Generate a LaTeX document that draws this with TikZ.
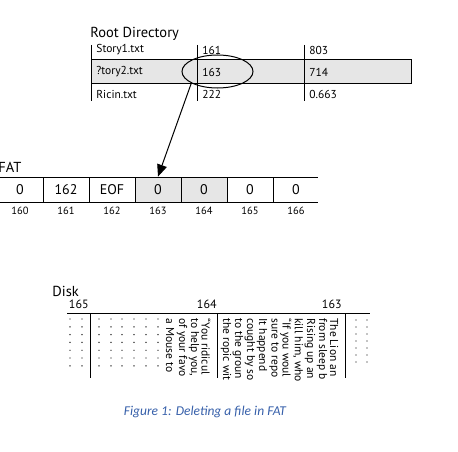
\documentclass[tikz,border=0pt]{standalone}
\usepackage{fontspec}
\setmainfont{PT Sans}
\newfontfamily\capfont{Carlito}
\usetikzlibrary{arrows.meta,shapes.geometric}
\definecolor{cellgray}{RGB}{230,230,230}
\definecolor{capblue}{RGB}{55,96,170}

\begin{document}
\begin{tikzpicture}[x=1pt,y=-1pt,line width=.8pt]
\useasboundingbox (0,0) rectangle (458,452);
% root directory
\node[anchor=base west,inner sep=0,font=\fontsize{14.5}{16}\selectfont] (rdtitle) at (90,38) {Root Directory};
\fill[cellgray] (91,59) rectangle (411,83);
\draw (91,59) -- (411,59) -- (411,83) -- (91,83);
\foreach \x in {91,197,304} \draw (\x,45) -- (\x,101);
\foreach \y/\n/\a/\b [count=\i] in {50/Story1.txt/161/803,72/?tory2.txt/163/714,94/Ricin.txt/222/0.663}{
  \node[anchor=west,inner sep=0,font=\fontsize{11.5}{13}\selectfont] (fname\i) at (96,\y) {\n};
  \node[anchor=west,inner sep=0,font=\fontsize{11.5}{13}\selectfont] (fclus\i) at (202,\y) {\a};
  \node[anchor=west,inner sep=0,font=\fontsize{11.5}{13}\selectfont] (fsize\i) at (309,\y) {\b};
}
\node[draw,ellipse,line width=1pt,minimum width=71pt,minimum height=33pt,inner sep=0] (sel) at (217.5,71.5) {};
% FAT
\node[anchor=base west,inner sep=0,font=\fontsize{14.5}{16}\selectfont] (fattitle) at (-2,172) {FAT};
\fill[cellgray] (135,177) rectangle (227,202);
\draw (-3,177) -- (318,177);
\draw (-3,202) -- (318,202);
\foreach \x in {43,89,135,181,227,273} \draw (\x,177) -- (\x,202);
\foreach \v [count=\i from 0] in {0,162,EOF,0,0,0,0}{
  \pgfmathtruncatemacro\n{160+\i}
  \node[minimum width=46pt,minimum height=25pt,inner sep=0,font=\fontsize{14}{16}\selectfont] (c\n) at ({20+46*\i},189.5) {\v};
  \node[inner sep=0,font=\fontsize{10.5}{12}\selectfont] (idx\n) at ({20+46*\i},211) {\n};
}
\draw[-{Triangle[width=10pt,length=12pt]},line width=1pt] (sel.204) -- (c163.north);
% disk
\node[anchor=base west,inner sep=0,font=\fontsize{14.5}{16}\selectfont] (disktitle) at (52,296) {Disk};
\draw (67,313) -- (370,313);
\foreach \x in {90,217,345} \draw (\x,313) -- (\x,378);
\node[anchor=base east,inner sep=0,font=\fontsize{12}{14}\selectfont] (blk165) at (89,308) {165};
\node[anchor=base east,inner sep=0,font=\fontsize{12}{14}\selectfont] (blk164) at (217,308) {164};
\node[anchor=base east,inner sep=0,font=\fontsize{12}{14}\selectfont] (blk163) at (342,308) {163};
\foreach \t [count=\i from 0] in {The Lion an,from sleep b,Rising up an,{kill him, who},“If you woul,sure to repo,It happend,cought by so,to the groun,the ropic wit}
  \node[rotate=-90,anchor=west,inner sep=0,font=\fontsize{11.5}{13}\selectfont] (lineA\i) at ({334-12*\i},318) {\t};
\foreach \t [count=\i from 0] in {“You ridicul,{to help you,},of your favo,a Mouse to}
  \node[rotate=-90,anchor=west,inner sep=0,font=\fontsize{11.5}{13}\selectfont] (lineB\i) at ({206-12*\i},318) {\t};
\foreach \x in {70,82,99,111,122,134,146,158}
  \foreach \y in {0,...,6} \fill ({\x},{319+7.8*\y}) circle (.7);
\foreach \x in {356,367}
  \foreach \y in {0,...,6} \fill ({\x},{320+7*\y}) circle (.7);
% caption
\node[font=\capfont\itshape\fontsize{13.5}{15}\selectfont,text=capblue] (caption) at (205,412) {Figure 1: Deleting a file in FAT};
\end{tikzpicture}
\end{document}
